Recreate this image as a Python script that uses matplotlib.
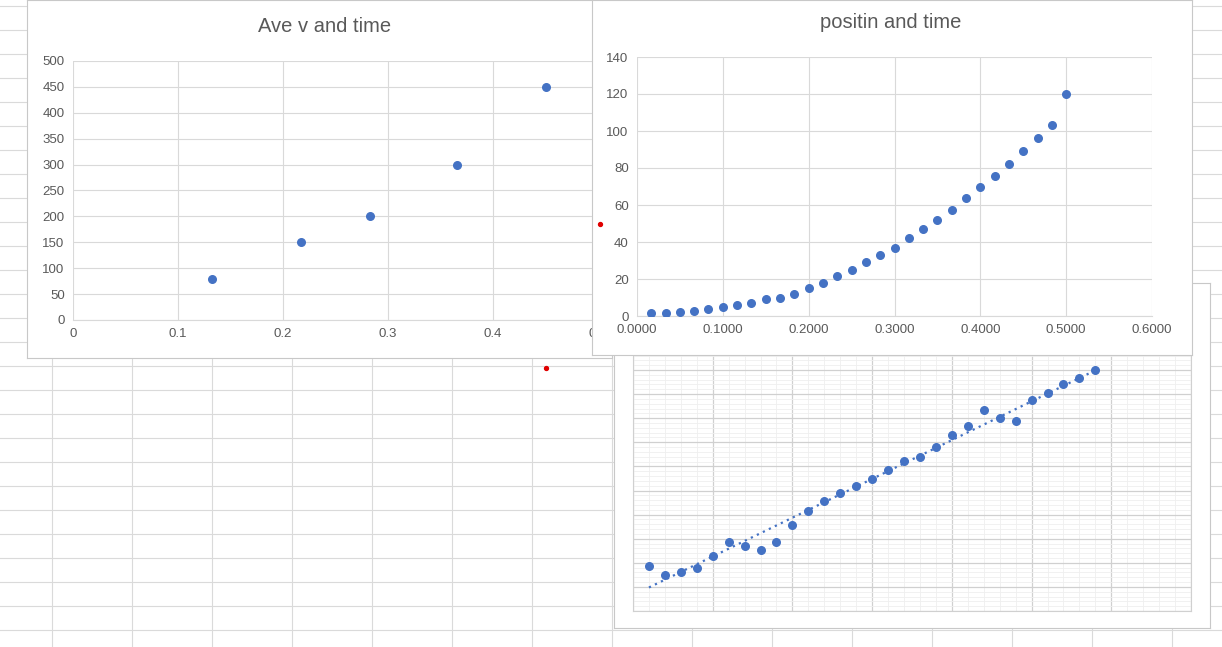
import numpy as np
import matplotlib
matplotlib.use("Agg")
import matplotlib.pyplot as plt
from matplotlib.ticker import MultipleLocator, FormatStrFormatter

plt.rcParams['font.family'] = ['Liberation Sans', 'DejaVu Sans']

W, H = 1222, 647
BLUE = '#4472C4'
GRID = '#d9d9d9'
TXT = '#595959'

# Chart 1: Ave v and time
ave_t = [0.1324, 0.217, 0.283, 0.366, 0.45]
ave_v = [79, 150, 200, 300, 450]

# Chart 2: positin and time
pos_t = [round(0.016667 * k, 4) for k in range(1, 31)]
pos_y = [1.5, 1.5, 2, 2.5, 4, 5, 6, 7, 9, 10, 12, 15, 18, 21.5, 25, 29, 33, 37,
         42, 47, 52, 57.5, 64, 69.5, 75.5, 82, 89, 96, 103, 120]

# Chart 3: partially hidden linear chart
lin_x = list(range(1, 30))
lin_y = [1.87, 1.48, 1.62, 1.78, 2.27, 2.86, 2.68, 2.53, 2.86, 3.55, 4.14, 4.55, 4.88,
         5.19, 5.46, 5.84, 6.21, 6.39, 6.80, 7.29, 7.66, 8.34, 7.99, 7.88, 8.76, 9.03,
         9.41, 9.65, 9.99]

# stray red marks on sheet (pixel coords)
red_x = [600, 546]
red_y = [224, 368]

fig = plt.figure(figsize=(W / 100, H / 100), dpi=100)
fig.patch.set_facecolor('white')

def box(x0, y0, x1, y1):
    return [x0 / W, 1 - y1 / H, (x1 - x0) / W, (y1 - y0) / H]

# spreadsheet background
bg = fig.add_axes([0, 0, 1, 1], zorder=0)
bg.set_xlim(0, W); bg.set_ylim(H, 0); bg.axis('off')
for x in range(52, W, 80):
    bg.axvline(x, color='#dadada', lw=0.8)
for y in range(6, H, 24):
    bg.axhline(y, color='#dadada', lw=0.8)

def panel(b, z):
    a = fig.add_axes(box(*b), zorder=z)
    a.set_xticks([]); a.set_yticks([])
    for s in a.spines.values():
        s.set_color('#c8c8c8'); s.set_linewidth(0.8)
    a.set_facecolor('white')
    return a

def style(ax):
    for s in ['top', 'right', 'left']:
        ax.spines[s].set_visible(False)
    ax.spines['bottom'].set_color(GRID)
    ax.tick_params(length=0, labelsize=9.5, colors=TXT, pad=6)
    ax.grid(True, color=GRID, lw=0.8)
    ax.set_axisbelow(True)
    ax.patch.set_alpha(0)

# Chart 1
panel((27, 0, 612, 358), 1)
ax1 = fig.add_axes(box(73, 61, 598, 320), zorder=1.5)
ax1.scatter(ave_t, ave_v, s=30, color=BLUE, zorder=3)
ax1.set_xlim(0, 0.5); ax1.set_ylim(0, 500)
ax1.yaxis.set_major_locator(MultipleLocator(50))
ax1.set_xticks([0, 0.1, 0.2, 0.3, 0.4, 0.5], ['0', '0.1', '0.2', '0.3', '0.4', '0.5'])
style(ax1)
fig.text(325 / W, 1 - 27 / H, 'Ave v and time', ha='center', va='center', fontsize=14.5, color=TXT, zorder=1.6)

# Chart 3 (behind chart 2)
panel((614, 283, 1210, 628), 2)
ax3 = fig.add_axes(box(633, 300, 1191, 611), zorder=2.5)
ax3.set_xlim(0, 35); ax3.set_ylim(0, 311 / 24.1)
ax3.xaxis.set_major_locator(MultipleLocator(5)); ax3.xaxis.set_minor_locator(MultipleLocator(1))
ax3.yaxis.set_major_locator(MultipleLocator(1)); ax3.yaxis.set_minor_locator(MultipleLocator(0.2))
ax3.grid(True, which='major', color='#d0d0d0', lw=0.9)
ax3.grid(True, which='minor', color='#efefef', lw=0.6)
ax3.set_axisbelow(True)
ax3.tick_params(which='both', length=0, labelbottom=False, labelleft=False)
for s in ax3.spines.values():
    s.set_color('#d0d0d0')
ax3.patch.set_alpha(0)
ax3.scatter(lin_x, lin_y, s=30, color=BLUE, zorder=3)
coef = np.polyfit(lin_x, lin_y, 1)
tx = np.array([lin_x[0], lin_x[-1]])
ax3.plot(tx, np.polyval(coef, tx), ls=(0, (1, 2)), color=BLUE, lw=1.6, zorder=2)

# Chart 2
panel((592, 0, 1192, 355), 3)
ax2 = fig.add_axes(box(637, 57, 1152, 316), zorder=3.5)
ax2.scatter(pos_t, pos_y, s=30, color=BLUE, zorder=3)
ax2.set_xlim(0, 0.6); ax2.set_ylim(0, 140)
ax2.xaxis.set_major_locator(MultipleLocator(0.1))
ax2.yaxis.set_major_locator(MultipleLocator(20))
ax2.xaxis.set_major_formatter(FormatStrFormatter('%.4f'))
style(ax2)
fig.text(891 / W, 1 - 23 / H, 'positin and time', ha='center', va='center', fontsize=14.5, color=TXT, zorder=3.6)

# overlay for stray red marks
ov = fig.add_axes([0, 0, 1, 1], zorder=10)
ov.set_xlim(0, W); ov.set_ylim(H, 0); ov.axis('off'); ov.patch.set_alpha(0)
ov.scatter(red_x, red_y, s=8, color='#e00000')

fig.savefig('out.png', dpi=100)
